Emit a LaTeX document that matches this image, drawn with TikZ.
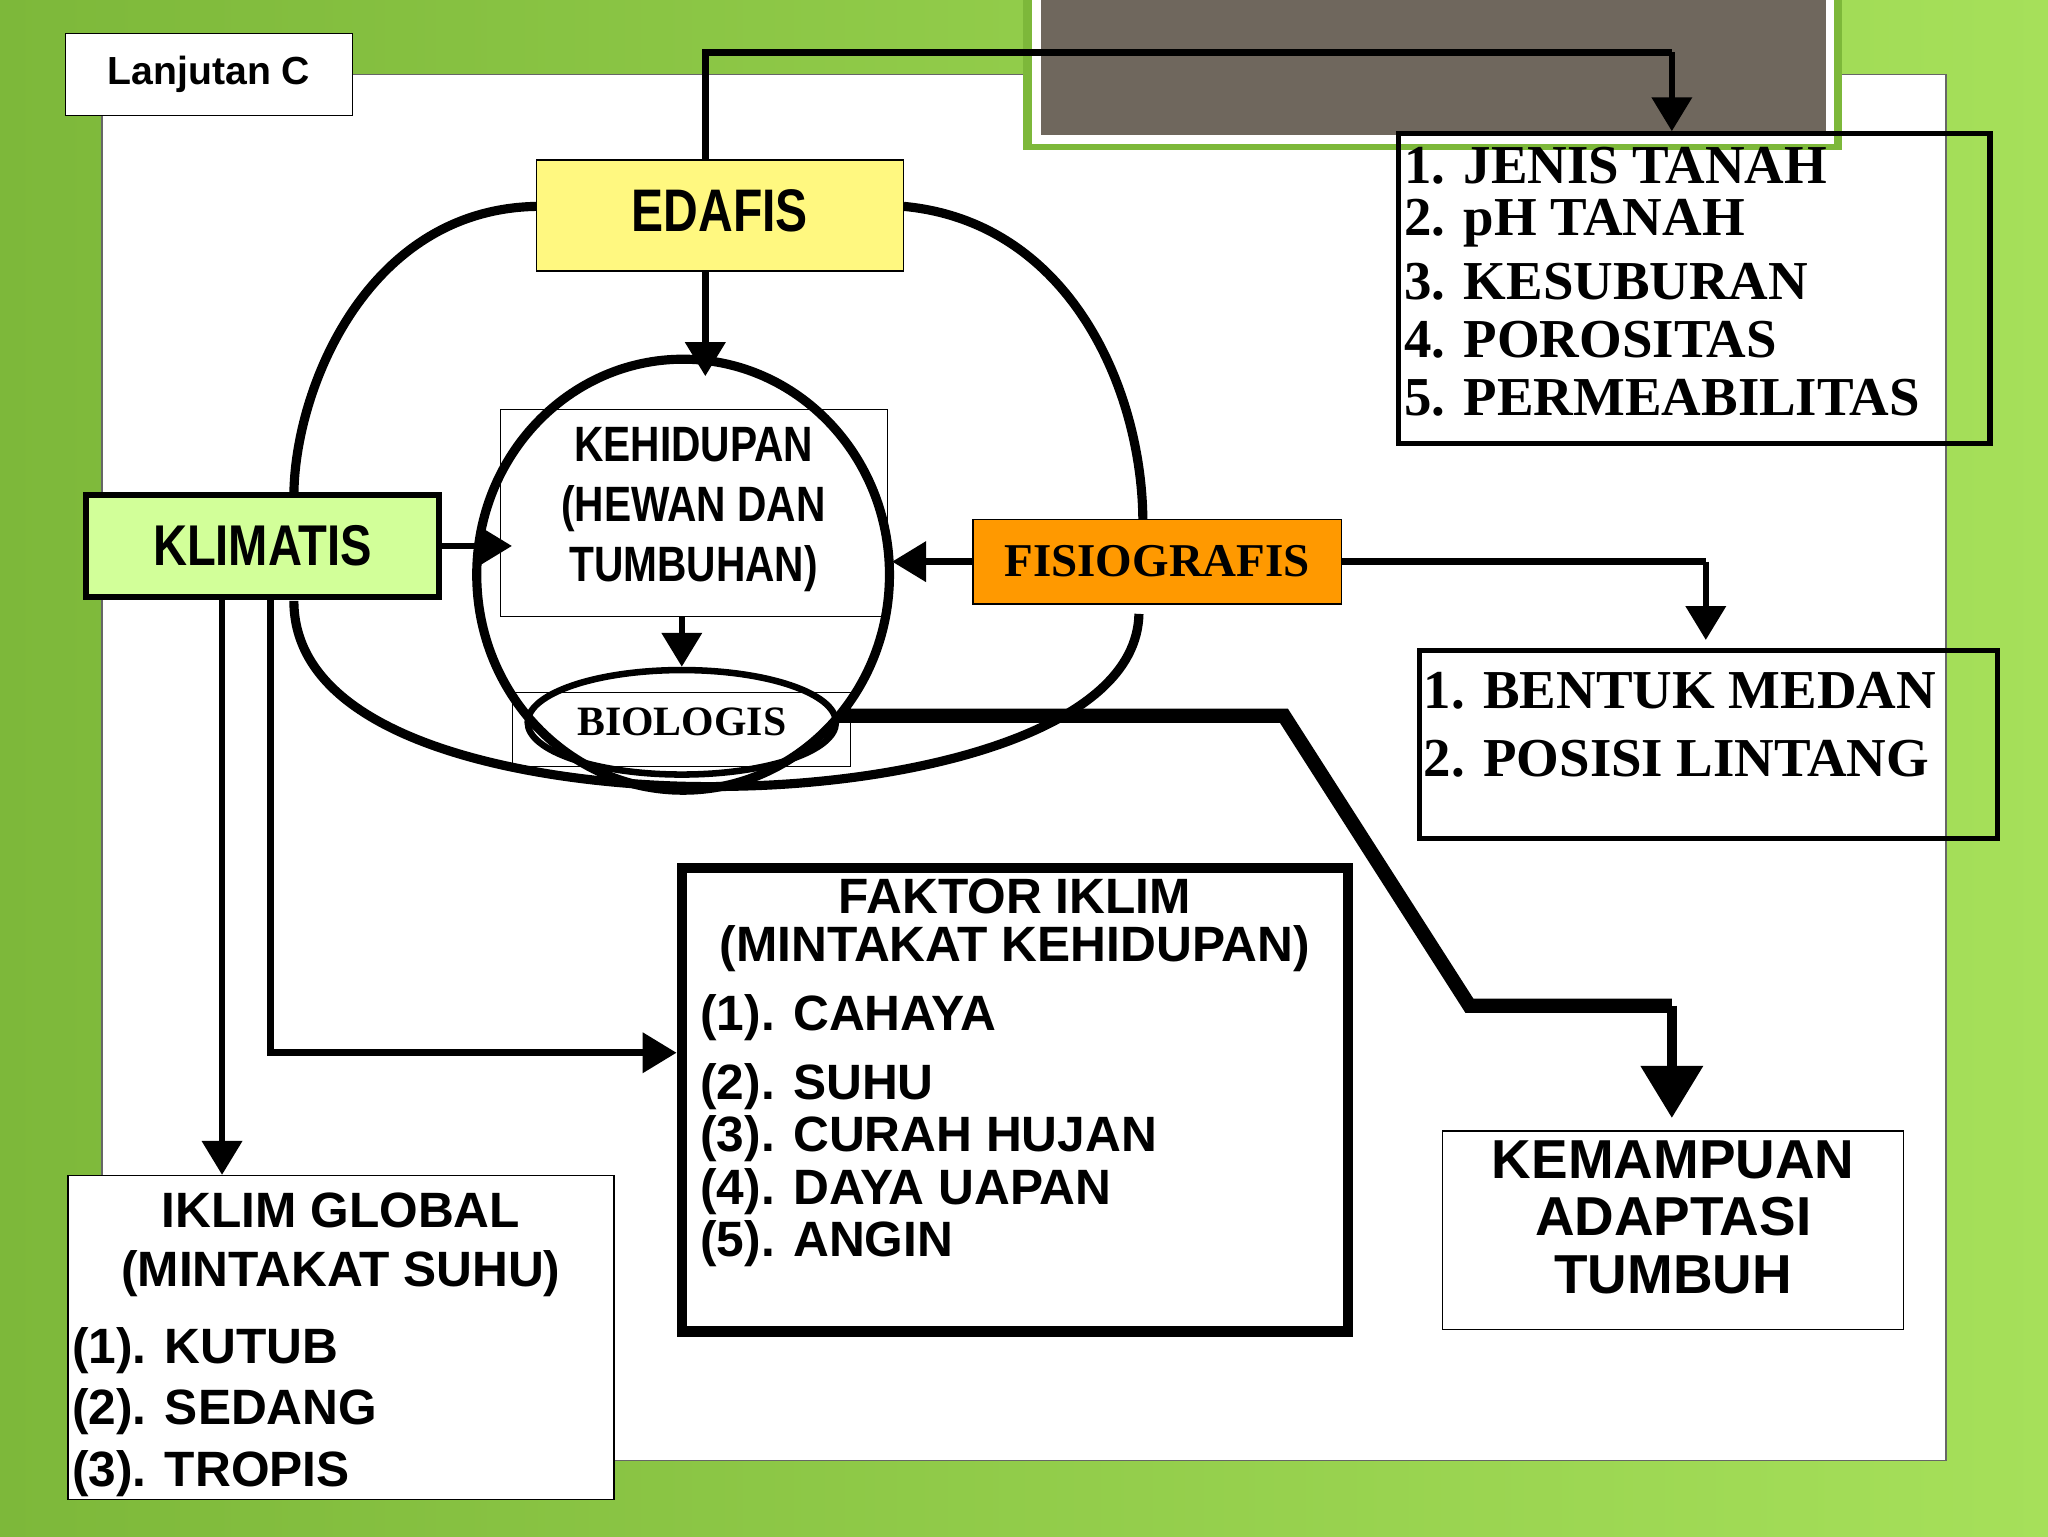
\documentclass[tikz,border=0pt]{standalone}
\usepackage{fontspec}
\setmainfont{Liberation Serif}
\setsansfont{Liberation Sans}
\usetikzlibrary{arrows.meta,shapes.geometric}
\definecolor{bgA}{HTML}{7DB83A}
\definecolor{bgB}{HTML}{A6E05A}
\definecolor{greyb}{HTML}{6F675D}
\tikzset{
 thk/.style={line width=7pt},
 arr/.style={line width=5pt,-{Triangle[length=26pt,width=30pt]}},
 sn/.style={font=\sffamily\bfseries\fontsize{38}{42}\selectfont,anchor=west,inner sep=0pt},
 rn/.style={font=\rmfamily\bfseries\fontsize{42}{46}\selectfont,anchor=west,inner sep=0pt},
 cn/.style={font=\sffamily\bfseries\fontsize{38}{46}\selectfont,align=center,inner sep=0pt}
}
\begin{document}
\begin{tikzpicture}[x=1pt,y=-1pt]
\useasboundingbox (0,0) rectangle (1568,1176);
\shade[left color=bgA, right color=bgB] (0,0) rectangle (1568,1176);
\fill[white] (78,57) rectangle (1490,1118);
\draw[black!60,line width=1pt] (78,57) rectangle (1490,1118);
\fill[bgA] (783,0) rectangle (1410,115);
\fill[white] (790,0) rectangle (1404,110);
\fill[greyb] (797,0) rectangle (1398,103);
% Lanjutan
\node[draw,line width=1pt,fill=white,minimum width=220pt,minimum height=63pt,font=\sffamily\bfseries\fontsize{30}{34}\selectfont] (lan) at (160,57) {Lanjutan C};
% outer loop
\draw[thk] (411,158) .. controls (280,160) and (225,300) .. (225,380);
\draw[thk] (692,158) .. controls (820,170) and (875,300) .. (875,400);
\draw[thk] (225,460) .. controls (225,580) and (450,605) .. (560,602) .. controls (700,600) and (870,560) .. (872,470);
% circle
\draw[thin] (383,313) rectangle (679,472);
\draw[thk] (523,440) ellipse [x radius=158, y radius=165];
\node[cn,font=\sffamily\bfseries\fontsize{38}{46}\selectfont] (keh) at (531,390) {\scalebox{0.82}[1]{KEHIDUPAN}\\\scalebox{0.82}[1]{(HEWAN DAN}\\\scalebox{0.82}[1]{TUMBUHAN)}};
\coordinate (khb) at (522,472);
% biologis
\draw[thin] (392,530) rectangle (651,587);
\node[draw,ellipse,line width=5pt,minimum width=236pt,minimum height=80pt,inner sep=0pt,font=\rmfamily\bfseries\fontsize{32}{36}\selectfont] (bio) at (522,553) {BIOLOGIS};
\draw[arr] (khb) -- (bio.north);
% edafis
\node[draw,fill=yellow!50,minimum width=281pt,minimum height=85pt,line width=1pt,font=\sffamily\bfseries\fontsize{46}{50}\selectfont] (eda) at (551,165) {\raisebox{8pt}{\scalebox{0.8}[1]{EDAFIS}}};
\draw[arr] (540,208) -- (540,288);
% klimatis
\node[draw,fill=green!25!lime!40,line width=5pt,minimum width=270pt,minimum height=78pt,font=\sffamily\bfseries\fontsize{44}{48}\selectfont] (kli) at (201,418) {\scalebox{0.82}[1]{KLIMATIS}};
\draw[arr] (kli.east) -- (392,418);
% fisiografis
\node[draw,fill=orange!80!yellow,minimum width=282pt,minimum height=65pt,line width=1pt,font=\rmfamily\bfseries\fontsize{36}{40}\selectfont] (fis) at (886,430) {FISIOGRAFIS};
\draw[arr] (fis.west) -- (683,430);
% box1
\node[draw,line width=4pt,minimum width=453pt,minimum height=237pt] (b1) at (1297,221) {};
\foreach \t [count=\i] in {1. JENIS TANAH,2. pH TANAH,3. KESUBURAN,4. POROSITAS,5. PERMEABILITAS}
 \node[rn] at (1075,82+44.5*\i) {\t};
\draw[line width=5pt] (540,123) |- (1280,40) coordinate (tr);
\draw[arr] (tr) -- (b1.north -| 1280,0);
% box2
\node[draw,line width=4pt,minimum width=443pt,minimum height=144pt] (b2) at (1308,570) {};
\node[rn] at (1090,529) {1. BENTUK MEDAN};
\node[rn] at (1090,581) {2. POSISI LINTANG};
\draw[line width=5pt] (fis.east) -- (1306,430) coordinate (fr);
\draw[arr] (fr) -- (1306,490);
% kemampuan
\node[draw,line width=1pt,fill=white,minimum width=353pt,minimum height=152pt] (kem) at (1281,942) {};
\node[cn,font=\sffamily\bfseries\fontsize{42}{44}\selectfont] at (1281,932) {KEMAMPUAN\\ADAPTASI\\TUMBUH};
\draw[line width=11pt] (bio.east) ++(0,-5) -- (983,548) -- (1125,770) -- (1280,770) coordinate (kc);
\draw[line width=8pt,-{Triangle[length=40pt,width=46pt]}] (kc) -- (1280,856);
% faktor iklim
\node[draw,line width=8pt,minimum width=510pt,minimum height=355pt,fill=white] (fak) at (777,842) {};
\node[cn] at (777,686) {FAKTOR IKLIM};
\node[cn] at (777,726) {(MINTAKAT KEHIDUPAN)};
\node[sn] at (536,779) {(1). CAHAYA};
\node[sn] at (536,832) {(2). SUHU};
\node[sn] at (536,872) {(3). CURAH HUJAN};
\node[sn] at (536,912) {(4). DAYA UAPAN};
\node[sn] at (536,952) {(5). ANGIN};
% iklim global
\node[draw,line width=1pt,fill=white,minimum width=418pt,minimum height=248pt] (ig) at (261,1024) {};
\node[cn] at (261,927) {IKLIM GLOBAL};
\node[cn] at (261,975) {(MINTAKAT SUHU)};
\node[sn] at (55,1034) {(1). KUTUB};
\node[sn] at (55,1081) {(2). SEDANG};
\node[sn] at (55,1128) {(3). TROPIS};
\draw[arr] (kli.south -| 170,0) -- (ig.north -| 170,0);
\draw[line width=5pt] (kli.south -| 207,0) |- (470,806) coordinate (kf);
\draw[arr] (kf) -- (fak.west |- 0,806);
\end{tikzpicture}
\end{document}
